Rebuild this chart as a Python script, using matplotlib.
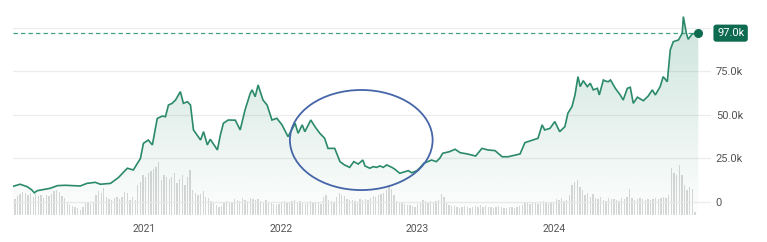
import numpy as np
import matplotlib
matplotlib.use("Agg")
import matplotlib.pyplot as plt
import matplotlib.dates as mdates
from matplotlib.patches import Polygon, Ellipse
from matplotlib.colors import to_rgb

plt.rcParams['font.family'] = ['Roboto', 'DejaVu Sans']

# ---------------- data ----------------
price_dates = [
    "2020-01-15", "2020-02-03", "2020-02-22", "2020-03-05", "2020-03-12", "2020-03-20",
    "2020-04-24", "2020-05-13", "2020-06-03", "2020-07-13", "2020-07-31", "2020-08-22",
    "2020-09-05", "2020-10-02", "2020-10-23", "2020-11-16", "2020-12-02", "2020-12-21",
    "2020-12-29", "2021-01-11", "2021-01-22", "2021-02-04", "2021-02-18", "2021-02-26",
    "2021-03-06", "2021-03-16", "2021-03-25", "2021-04-07", "2021-04-15", "2021-04-26",
    "2021-05-04", "2021-05-12", "2021-05-31", "2021-06-08", "2021-06-18", "2021-06-26",
    "2021-07-15", "2021-07-23", "2021-07-31", "2021-08-13", "2021-09-01", "2021-09-14",
    "2021-09-27", "2021-10-11", "2021-10-16", "2021-10-24", "2021-11-01", "2021-11-14",
    "2021-11-25", "2021-12-08", "2021-12-21", "2022-01-04", "2022-01-20", "2022-02-08",
    "2022-02-16", "2022-02-27", "2022-03-06", "2022-03-22", "2022-04-02", "2022-04-15",
    "2022-04-28", "2022-05-07", "2022-05-25", "2022-06-08", "2022-06-20", "2022-07-04",
    "2022-07-15", "2022-07-27", "2022-08-08", "2022-08-14", "2022-08-27", "2022-09-05",
    "2022-09-14", "2022-09-23", "2022-10-02", "2022-10-11", "2022-10-25", "2022-11-02",
    "2022-11-15", "2022-11-29", "2022-12-08", "2022-12-17", "2022-12-31", "2023-01-09",
    "2023-01-18", "2023-02-08", "2023-02-21", "2023-03-02", "2023-03-10", "2023-03-28",
    "2023-04-12", "2023-04-26", "2023-05-15", "2023-06-06", "2023-06-23", "2023-07-09",
    "2023-07-28", "2023-08-16", "2023-09-01", "2023-10-03", "2023-10-16", "2023-11-06",
    "2023-11-20", "2023-12-01", "2023-12-08", "2023-12-22", "2024-01-04", "2024-01-17",
    "2024-01-31", "2024-02-08", "2024-02-19", "2024-02-27", "2024-03-06", "2024-03-12",
    "2024-03-20", "2024-03-31", "2024-04-08", "2024-04-16", "2024-04-27", "2024-05-02",
    "2024-05-13", "2024-05-18", "2024-05-26", "2024-06-01", "2024-06-14", "2024-06-27",
    "2024-07-05", "2024-07-16", "2024-07-24", "2024-08-01", "2024-08-12", "2024-08-28",
    "2024-09-10", "2024-09-21", "2024-09-29", "2024-10-12", "2024-10-20", "2024-10-31",
    "2024-11-08", "2024-11-16", "2024-11-30", "2024-12-10", "2024-12-13", "2024-12-21",
    "2024-12-26", "2025-01-06", "2025-01-22",
]
prices_k = [
    9.0, 10.2, 8.8, 7.0, 5.3, 6.5,
    7.9, 9.4, 9.6, 9.2, 10.7, 11.3,
    10.2, 10.7, 14.0, 19.4, 18.4, 25.0,
    33.7, 35.6, 32.8, 48.0, 49.4, 49.0,
    55.7, 56.7, 58.6, 63.4, 56.7, 57.6,
    55.7, 41.4, 35.6, 40.4, 32.8, 36.0,
    29.9, 38.5, 45.2, 47.1, 47.0, 41.4,
    52.9, 62.5, 64.4, 60.5, 67.2, 58.6,
    55.7, 47.1, 48.1, 44.3, 37.5, 45.2,
    39.5, 44.3, 40.4, 47.1, 43.3, 39.5,
    36.6, 30.8, 30.8, 23.2, 21.3, 19.9,
    23.2, 21.8, 24.1, 20.7, 19.4, 20.3,
    19.9, 20.7, 19.9, 21.3, 19.9, 18.8,
    16.5, 17.4, 18.0, 16.8, 18.0, 19.9,
    22.2, 24.1, 23.2, 25.1, 28.0, 28.9,
    30.3, 28.3, 27.6, 26.4, 30.8, 29.9,
    29.5, 26.0, 26.0, 27.6, 34.1, 35.6,
    36.6, 44.3, 41.4, 42.3, 46.2, 40.4,
    43.3, 51.0, 54.8, 61.5, 72.0, 66.3,
    69.7, 66.3, 68.2, 64.4, 65.3, 61.5,
    70.1, 69.5, 69.1, 70.1, 65.3, 61.5,
    58.6, 65.3, 65.9, 56.7, 60.2, 58.2,
    60.9, 64.4, 61.5, 66.3, 72.0, 69.1,
    87.4, 92.1, 93.1, 96.9, 106.5, 97.0,
    93.5, 96.6, 97.0,
]

volume_start = "2020-01-13"   # weekly volume bars (relative units)
volume = [
    13, 16, 19, 21, 23, 22, 20, 22, 18, 21, 19, 20, 17,
    20, 19, 21, 24, 25, 23, 19, 17, 12, 10, 9, 8, 7,
    5, 8, 12, 12, 11, 12, 20, 24, 22, 27, 18, 16, 15,
    17, 18, 16, 18, 23, 22, 15, 18, 15, 30, 33, 40, 38,
    42, 44, 46, 48, 53, 35, 40, 38, 36, 38, 42, 32, 36,
    40, 30, 38, 45, 25, 22, 20, 21, 24, 18, 17, 14, 12,
    10, 8, 9, 12, 14, 13, 12, 16, 15, 14, 17, 15, 14,
    17, 16, 15, 16, 14, 13, 15, 12, 12, 11, 10, 11, 13,
    14, 13, 12, 14, 15, 13, 14, 12, 11, 12, 14, 13, 12,
    12, 11, 18, 20, 15, 14, 13, 18, 22, 20, 19, 16, 15,
    15, 14, 13, 16, 15, 16, 15, 17, 19, 18, 20, 21, 22,
    25, 30, 26, 20, 14, 12, 13, 11, 10, 10, 9, 8, 11,
    12, 15, 14, 13, 14, 12, 14, 15, 21, 18, 13, 10, 9,
    9, 8, 7, 8, 9, 8, 7, 8, 9, 8, 10, 8, 9,
    8, 8, 7, 8, 9, 8, 7, 7, 8, 8, 7, 8, 9,
    10, 12, 12, 11, 13, 12, 11, 13, 14, 12, 11, 12, 13,
    16, 15, 17, 14, 15, 20, 30, 33, 35, 28, 25, 20, 22,
    18, 21, 17, 16, 18, 15, 14, 17, 16, 16, 15, 14, 17,
    16, 18, 26, 17, 15, 16, 17, 16, 15, 16, 15, 16, 17,
    16, 17, 18, 17, 20, 47, 42, 40, 50, 40, 30, 25, 28,
    26, 3,
]

year_ticks = ["2021-01-01", "2022-01-01", "2023-01-01", "2024-01-01"]
year_labels = ["2021", "2022", "2023", "2024"]
ytick_vals = [0, 25, 50, 75, 100]
ytick_labels = ["0", "25.0k", "50.0k", "75.0k", ""]

# ---------------- style ----------------
LINE = "#2b8a6b"
DASH = "#43a087"
DARK = "#0e6b4f"
GRID = "#ececec"
BAR = "#d8d8d8"
TXT = "#555555"
ELL = "#4565a8"

W, H = 767, 242
fig = plt.figure(figsize=(W / 100, H / 100), dpi=100)
left_px, right_px, top_px, bot_px = 13, 711, 10, 215
rect = [left_px / W, (H - bot_px) / H, (right_px - left_px) / W, (bot_px - top_px) / H]

x = mdates.date2num(np.array(price_dates, dtype="datetime64[D]"))
p = np.array(prices_k)
vx = mdates.date2num(np.datetime64(volume_start) + np.arange(len(volume)) * np.timedelta64(7, "D"))

xmin = mdates.date2num(np.datetime64("2020-01-15"))
xmax = mdates.date2num(np.datetime64("2025-02-25"))
ymin, ymax = -7.47, 110.3

# volume axes (below)
axv = fig.add_axes(rect)
axv.bar(vx, volume, width=3.6, color=BAR, linewidth=0, zorder=1)
axv.set_xlim(xmin, xmax)
axv.set_ylim(0, bot_px - top_px)
axv.axis("off")

# price axes (on top)
ax = fig.add_axes(rect, facecolor="none")
ax.set_xlim(xmin, xmax)
ax.set_ylim(ymin, ymax)

# gradient fill under the line
verts = [(x[0], ymin)] + list(zip(x, p)) + [(x[-1], ymin)]
poly = Polygon(verts, closed=True, facecolor="none", edgecolor="none")
ax.add_patch(poly)
n = 256
grad = np.zeros((n, 1, 4))
grad[..., :3] = to_rgb(LINE)
grad[:, 0, 3] = np.linspace(0.24, 0.01, n)
im = ax.imshow(grad, extent=[x[0], x[-1], ymin, ymax], origin="upper",
               aspect="auto", zorder=2, interpolation="bilinear")
im.set_clip_path(poly)
ax.set_xlim(xmin, xmax)
ax.set_ylim(ymin, ymax)

# grid
for yv in ytick_vals:
    ax.axhline(yv, color=GRID, lw=0.9, zorder=1)

# line
ax.plot(x, p, color=LINE, lw=1.2, zorder=4, solid_joinstyle="miter")

# last value dashed line + dot + label
last = p[-1]
ax.hlines(last, xmin, x[-1], colors=DASH, linestyles=(0, (3.5, 2.5)), lw=0.9, zorder=3)
ax.plot([x[-1]], [last], "o", color=DARK, ms=5.5, zorder=5)
ax.annotate(f"{last:.1f}k", xy=(1, last), xycoords=("axes fraction", "data"),
            xytext=(6, 0), textcoords="offset pixels", ha="left", va="center",
            color="white", fontsize=8,
            bbox=dict(boxstyle="round,pad=0.32,rounding_size=0.25", fc=DARK, ec="none"),
            zorder=6, annotation_clip=False)

# ellipse annotation
ec = mdates.date2num(np.datetime64("2022-08-04"))
ax.add_patch(Ellipse((ec, 35.6), width=382, height=57.5, fill=False,
                     edgecolor=ELL, lw=1.3, zorder=7))

# ticks
ax.set_xticks(mdates.date2num(np.array(year_ticks, dtype="datetime64[D]")))
ax.set_xticklabels(year_labels)
ax.set_yticks(ytick_vals)
ax.set_yticklabels(ytick_labels)
ax.yaxis.tick_right()
ax.tick_params(axis="x", length=0, pad=6.5, labelsize=7.5, labelcolor=TXT)
ax.tick_params(axis="y", length=0, pad=3.4, labelsize=8, labelcolor=TXT)
for lab in ax.get_yticklabels():
    lab.set_horizontalalignment("left")
for s in ax.spines.values():
    s.set_visible(False)

fig.savefig("out.png", dpi=100)
